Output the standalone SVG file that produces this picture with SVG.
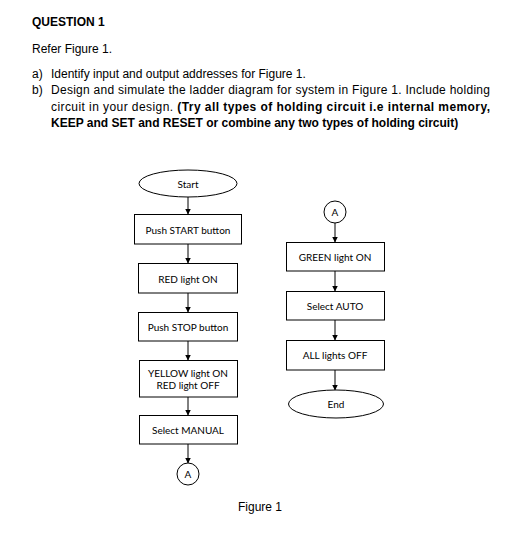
<svg xmlns="http://www.w3.org/2000/svg" width="519" height="549" viewBox="0 0 519 549">
<style>
.t{font-family:"Liberation Sans",Arial,sans-serif;font-size:12px;fill:#000}
.b{font-weight:bold}
.n{font-family:Lato,"Noto Sans",sans-serif;font-size:10px;fill:#000;text-anchor:middle;dominant-baseline:central}
.s{fill:#fff;stroke:#000;stroke-width:1}
.c line{stroke:#000;stroke-width:1}
</style>
<defs>
<marker id="ah" markerWidth="6" markerHeight="6" refX="5.5" refY="3" orient="auto" markerUnits="userSpaceOnUse">
<path d="M0,0 L6,3 L0,6 Z" fill="#000"/>
</marker>
</defs>
<rect width="519" height="549" fill="#fff"/>
<g id="question">
<text class="t b" x="32" y="26">QUESTION 1</text>
<text class="t" x="32" y="53">Refer Figure 1.</text>
<text class="t" x="32" y="78">a)</text>
<text class="t" x="51" y="78">Identify input and output addresses for Figure 1.</text>
<text class="t" x="32" y="94">b)</text>
<text class="t" x="51" y="94" textLength="439" lengthAdjust="spacing">Design and simulate the ladder diagram for system in Figure 1. Include holding</text>
<text class="t" x="51" y="111" textLength="439" lengthAdjust="spacing">circuit in your design. <tspan class="b">(Try all types of holding circuit i.e internal memory,</tspan></text>
<text class="t b" x="51" y="127">KEEP and SET and RESET or combine any two types of holding circuit)</text>
</g>
<g class="c" id="connectors">
<line x1="188" y1="197" x2="188" y2="214" marker-end="url(#ah)"/>
<line x1="188" y1="244" x2="188" y2="263" marker-end="url(#ah)"/>
<line x1="188" y1="293" x2="188" y2="312" marker-end="url(#ah)"/>
<line x1="188" y1="341" x2="188" y2="360" marker-end="url(#ah)"/>
<line x1="188" y1="397" x2="188" y2="415" marker-end="url(#ah)"/>
<line x1="188" y1="444" x2="188" y2="463" marker-end="url(#ah)"/>
<line x1="335" y1="223" x2="335" y2="242" marker-end="url(#ah)"/>
<line x1="335" y1="271" x2="335" y2="291" marker-end="url(#ah)"/>
<line x1="335" y1="320" x2="335" y2="340" marker-end="url(#ah)"/>
<line x1="335" y1="370" x2="335" y2="390" marker-end="url(#ah)"/>
</g>
<g id="start"><ellipse class="s" cx="188" cy="183.5" rx="49" ry="13.5"/><text class="n" x="188" y="183.5">Start</text></g>
<g id="push-start"><rect class="s" x="134.5" y="214.5" width="107" height="29.5"/><text class="n" x="188" y="229.5">Push START button</text></g>
<g id="red-on"><rect class="s" x="138.5" y="263.5" width="99" height="29.5"/><text class="n" x="188" y="278.5">RED light ON</text></g>
<g id="push-stop"><rect class="s" x="138.5" y="312.5" width="99" height="28.5"/><text class="n" x="188" y="326.5">Push STOP button</text></g>
<g id="yellow"><rect class="s" x="139.5" y="360.5" width="98" height="36.5"/><text class="n" x="188" y="372.5">YELLOW light ON</text><text class="n" x="188" y="384.5">RED light OFF</text></g>
<g id="manual"><rect class="s" x="139.5" y="415.5" width="98" height="28.5"/><text class="n" x="188" y="429.5">Select MANUAL</text></g>
<g id="conn-a1"><circle class="s" cx="188" cy="474" r="11"/><text class="n" x="188" y="474">A</text></g>
<g id="conn-a2"><circle class="s" cx="335" cy="212" r="11"/><text class="n" x="335" y="212">A</text></g>
<g id="green-on"><rect class="s" x="286.5" y="242.5" width="98" height="28.5"/><text class="n" x="335" y="256.5">GREEN light ON</text></g>
<g id="auto"><rect class="s" x="286.5" y="291.5" width="98" height="28.5"/><text class="n" x="335" y="305.5">Select AUTO</text></g>
<g id="all-off"><rect class="s" x="286.5" y="340.5" width="98" height="29.5"/><text class="n" x="335" y="355">ALL lights OFF</text></g>
<g id="end"><ellipse class="s" cx="336" cy="404" rx="47.5" ry="14"/><text class="n" x="336" y="404">End</text></g>
<text class="t" x="260" y="511" text-anchor="middle">Figure 1</text>
</svg>
